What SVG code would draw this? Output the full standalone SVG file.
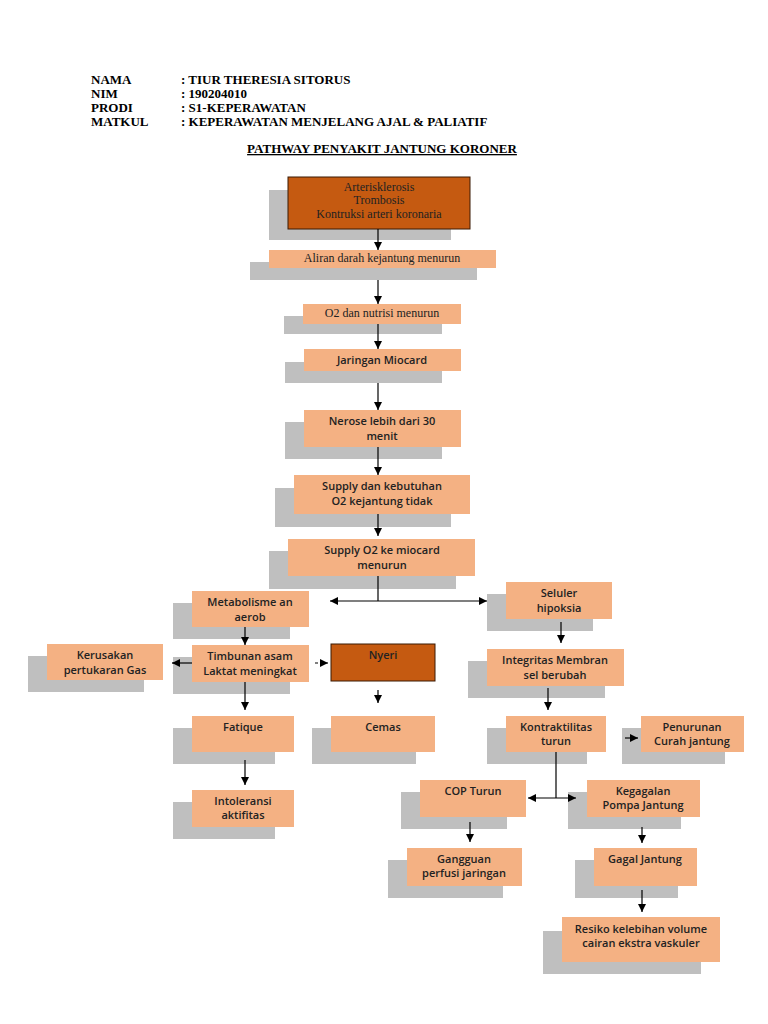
<svg xmlns="http://www.w3.org/2000/svg" width="768" height="1024" viewBox="0 0 768 1024">
<style>
.sh{fill:#BFBFBF}
.bx{fill:#F4B183}
.dk{fill:#C55A11;stroke:#3a1a05;stroke-width:1}
.hd{font-family:"Liberation Serif",serif;font-size:13px;font-weight:bold;fill:#000}
.sf{font-family:"Liberation Serif",serif;font-size:12px;fill:#222;text-anchor:middle}
.ss{font-family:"Open Sans",sans-serif;font-size:11px;font-weight:600;fill:#222;text-anchor:middle}
.ln{stroke:#000;stroke-width:1.2;fill:none}
</style>
<defs><marker id="a" viewBox="0 0 10 10" refX="10" refY="5" markerWidth="7" markerHeight="7" orient="auto-start-reverse"><path d="M0,0L10,5L0,10z" fill="#000"/></marker></defs>
<rect width="768" height="1024" fill="#fff"/>
<g id="header">
<text class="hd" x="91" y="84">NAMA</text><text class="hd" x="181" y="84">: TIUR THERESIA SITORUS</text>
<text class="hd" x="91" y="98">NIM</text><text class="hd" x="181" y="98">: 190204010</text>
<text class="hd" x="91" y="112">PRODI</text><text class="hd" x="181" y="112">: S1-KEPERAWATAN</text>
<text class="hd" x="91" y="126">MATKUL</text><text class="hd" x="181" y="126">: KEPERAWATAN MENJELANG AJAL &amp; PALIATIF</text>
<text class="hd" x="382" y="153" text-anchor="middle" text-decoration="underline">PATHWAY PENYAKIT JANTUNG KORONER</text>
</g>
<g id="n1"><rect class="sh" x="269" y="190" width="182" height="50"/><rect class="dk" x="288" y="177" width="182" height="52"/><text class="sf" x="379" y="191">Arterisklerosis</text><text class="sf" x="379" y="204">Trombosis</text><text class="sf" x="379" y="218">Kontruksi arteri koronaria</text></g>
<g id="n2"><rect class="sh" x="250" y="262" width="227" height="18"/><rect class="bx" x="269" y="250" width="227" height="18"/><text class="sf" x="382" y="262">Aliran darah kejantung menurun</text></g>
<g id="n3"><rect class="sh" x="284" y="316" width="158" height="18"/><rect class="bx" x="303" y="304" width="158" height="20"/><text class="sf" x="382" y="317">O2 dan nutrisi menurun</text></g>
<g id="n4"><rect class="sh" x="285" y="362" width="157" height="21"/><rect class="bx" x="304" y="349" width="157" height="22"/><text class="ss" x="382" y="364">Jaringan Miocard</text></g>
<g id="n5"><rect class="sh" x="285" y="422" width="157" height="37"/><rect class="bx" x="304" y="410" width="157" height="37"/><text class="ss" x="382" y="425">Nerose lebih dari 30</text><text class="ss" x="382" y="440">menit</text></g>
<g id="n6"><rect class="sh" x="275" y="488" width="176" height="39"/><rect class="bx" x="294" y="475" width="176" height="39"/><text class="ss" x="382" y="490">Supply dan kebutuhan</text><text class="ss" x="382" y="505">O2 kejantung tidak</text></g>
<g id="n7"><rect class="sh" x="269" y="551" width="187" height="38"/><rect class="bx" x="288" y="539" width="187" height="37"/><text class="ss" x="382" y="554">Supply O2 ke miocard</text><text class="ss" x="382" y="569">menurun</text></g>
<g id="n8"><rect class="sh" x="173" y="603" width="117" height="36"/><rect class="bx" x="192" y="591" width="117" height="36"/><text class="ss" x="250" y="606">Metabolisme an</text><text class="ss" x="250" y="621">aerob</text></g>
<g id="n9"><rect class="sh" x="487" y="594" width="106" height="37"/><rect class="bx" x="506" y="582" width="106" height="37"/><text class="ss" x="559" y="597">Seluler</text><text class="ss" x="559" y="612">hipoksia</text></g>
<g id="n10"><rect class="sh" x="28" y="656" width="116" height="36"/><rect class="bx" x="47" y="644" width="116" height="36"/><text class="ss" x="105" y="659">Kerusakan</text><text class="ss" x="105" y="674">pertukaran Gas</text></g>
<g id="n11"><rect class="sh" x="173" y="657" width="117" height="37"/><rect class="bx" x="192" y="645" width="117" height="37"/><text class="ss" x="250" y="660">Timbunan asam</text><text class="ss" x="250" y="675">Laktat meningkat</text></g>
<g id="n12"><rect class="dk" x="331" y="644" width="104" height="37"/><text class="ss" x="383" y="659">Nyeri</text></g>
<g id="n13"><rect class="sh" x="468" y="661" width="137" height="37"/><rect class="bx" x="487" y="649" width="137" height="37"/><text class="ss" x="555" y="664">Integritas Membran</text><text class="ss" x="555" y="679">sel berubah</text></g>
<g id="n14"><rect class="sh" x="173" y="728" width="102" height="36"/><rect class="bx" x="192" y="716" width="102" height="36"/><text class="ss" x="243" y="731">Fatique</text></g>
<g id="n15"><rect class="sh" x="312" y="728" width="104" height="36"/><rect class="bx" x="331" y="716" width="104" height="36"/><text class="ss" x="383" y="731">Cemas</text></g>
<g id="n16"><rect class="sh" x="487" y="728" width="100" height="36"/><rect class="bx" x="506" y="716" width="100" height="36"/><text class="ss" x="556" y="731">Kontraktilitas</text><text class="ss" x="556" y="745">turun</text></g>
<g id="n17"><rect class="sh" x="622" y="728" width="103" height="36"/><rect class="bx" x="641" y="716" width="103" height="36"/><text class="ss" x="692" y="731">Penurunan</text><text class="ss" x="692" y="745">Curah jantung</text></g>
<g id="n18"><rect class="sh" x="173" y="802" width="102" height="37"/><rect class="bx" x="192" y="790" width="102" height="37"/><text class="ss" x="243" y="805">Intoleransi</text><text class="ss" x="243" y="819">aktifitas</text></g>
<g id="n19"><rect class="sh" x="401" y="792" width="106" height="37"/><rect class="bx" x="420" y="780" width="106" height="37"/><text class="ss" x="473" y="795">COP Turun</text></g>
<g id="n20"><rect class="sh" x="568" y="792" width="113" height="37"/><rect class="bx" x="587" y="780" width="113" height="37"/><text class="ss" x="643" y="795">Kegagalan</text><text class="ss" x="643" y="809">Pompa Jantung</text></g>
<g id="n21"><rect class="sh" x="388" y="860" width="115" height="38"/><rect class="bx" x="407" y="848" width="115" height="38"/><text class="ss" x="464" y="863">Gangguan</text><text class="ss" x="464" y="877">perfusi jaringan</text></g>
<g id="n22"><rect class="sh" x="575" y="860" width="103" height="38"/><rect class="bx" x="594" y="848" width="103" height="38"/><text class="ss" x="645" y="863">Gagal Jantung</text></g>
<g id="n23"><rect class="sh" x="543" y="931" width="158" height="43"/><rect class="bx" x="562" y="917" width="158" height="45"/><text class="ss" x="641" y="933">Resiko kelebihan volume</text><text class="ss" x="641" y="947">cairan ekstra vaskuler</text></g>
<g id="connectors">
<path class="ln" d="M378,229V250" marker-end="url(#a)"/>
<path class="ln" d="M378,280V304" marker-end="url(#a)"/>
<path class="ln" d="M378,324V349" marker-end="url(#a)"/>
<path class="ln" d="M378,383V410" marker-end="url(#a)"/>
<path class="ln" d="M378,447V475" marker-end="url(#a)"/>
<path class="ln" d="M378,514V536" marker-end="url(#a)"/>
<path class="ln" d="M378,576V601"/>
<path class="ln" d="M330,601H487" marker-start="url(#a)" marker-end="url(#a)"/>
<path class="ln" d="M245,627V645" marker-end="url(#a)"/>
<path class="ln" d="M192,663H172" marker-end="url(#a)"/>
<path class="ln" d="M315,663H328" stroke-dasharray="3,2" marker-end="url(#a)"/>
<path class="ln" d="M378,690V703" marker-end="url(#a)"/>
<path class="ln" d="M245,682V710" marker-end="url(#a)"/>
<path class="ln" d="M245,760V785" marker-end="url(#a)"/>
<path class="ln" d="M561,622V643" marker-end="url(#a)"/>
<path class="ln" d="M548,688V710" marker-end="url(#a)"/>
<path class="ln" d="M625,738H638" marker-end="url(#a)"/>
<path class="ln" d="M556,752V798"/>
<path class="ln" d="M528,798H576" marker-start="url(#a)" marker-end="url(#a)"/>
<path class="ln" d="M470,822V842" marker-end="url(#a)"/>
<path class="ln" d="M642,827V843" marker-end="url(#a)"/>
<path class="ln" d="M642,890V912" marker-end="url(#a)"/>
</g>
</svg>
